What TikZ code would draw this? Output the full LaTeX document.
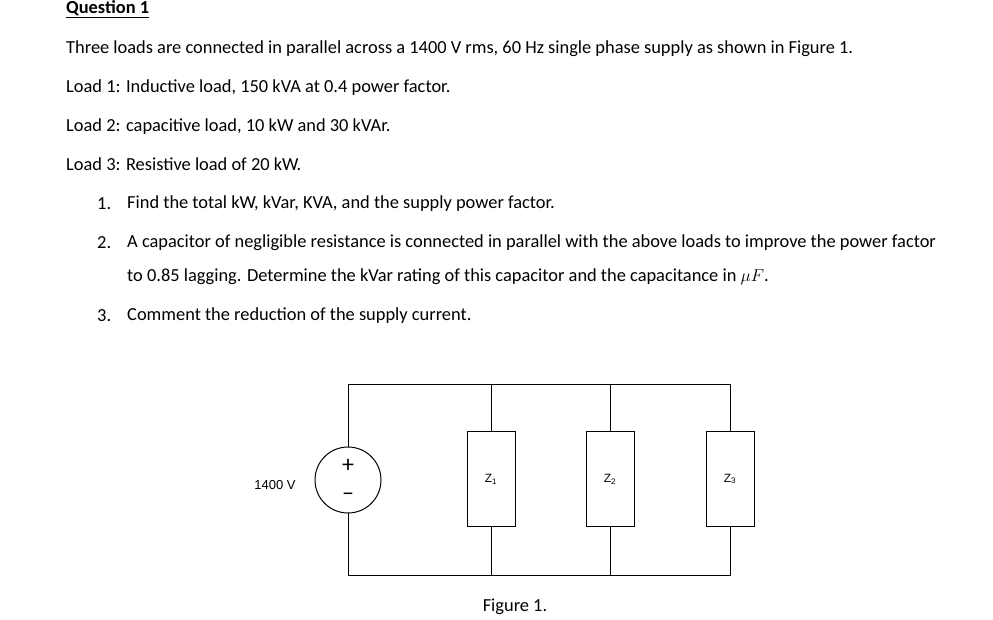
\documentclass[tikz,border=0pt]{standalone}
\usepackage{fontspec}
\setmainfont{Carlito}
\newfontfamily\arialf{Liberation Sans}
\begin{document}
\begin{tikzpicture}[x=1pt,y=-1pt,
  txt/.style={anchor=west,inner sep=0pt,font=\fontsize{18.4}{20}\selectfont},
  wire/.style={line width=1pt},
  load/.style={draw,line width=1pt,minimum width=48pt,minimum height=95pt,inner sep=0pt,fill=white,font=\arialf\fontsize{12}{14}\selectfont},
  lbl/.style={font=\arialf\fontsize{13}{15}\selectfont,inner sep=0pt}]
\useasboundingbox[fill=white] (0,0) rectangle (993,620);
\node[txt,font=\bfseries\fontsize{18.4}{20}\selectfont] (q) at (66,9) {\underline{Question 1}};
\node[txt] (t1) at (66,49) {Three loads are connected in parallel across a 1400 V rms, 60 Hz single phase supply as shown in Figure 1.};
\node[txt] (t2) at (66,88) {Load 1: Inductive load, 150 kVA at 0.4 power factor.};
\node[txt] (t3) at (66,127) {Load 2: capacitive load, 10 kW and 30 kVAr.};
\node[txt] (t4) at (66,164) {Load 3: Resistive load of 20 kW.};
\node[txt] (n1) at (97,204) {1.};
\node[txt] (i1) at (127,204) {Find the total kW, kVar, KVA, and the supply power factor.};
\node[txt] (n2) at (97,243) {2.};
\node[txt] (i2) at (127,243) {A capacitor of negligible resistance is connected in parallel with the above loads to improve the power factor};
\node[txt] (i2b) at (127,277) {to 0.85 lagging. Determine the kVar rating of this capacitor and the capacitance in $\mu F$.};
\node[txt] (n3) at (97,316) {3.};
\node[txt] (i3) at (127,316) {Comment the reduction of the supply current.};
% circuit
\coordinate (tl) at (348,384); \coordinate (tr) at (730,384);
\coordinate (bl) at (348,575); \coordinate (br) at (730,575);
\coordinate (t1c) at (491,384); \coordinate (b1c) at (491,575);
\coordinate (t2c) at (610,384); \coordinate (b2c) at (610,575);
\draw[wire] (bl) -- (tl) -- (tr) -- (br) -- (bl);
\draw[wire] (t1c) -- (b1c); \draw[wire] (t2c) -- (b2c);
\node[draw,circle,line width=1pt,minimum size=66pt,inner sep=0pt,fill=white] (src) at (348,480) {};
\node[font=\fontsize{24}{24}\selectfont,inner sep=0pt] (plus) at (348,466) {+};
\node[font=\fontsize{24}{24}\selectfont,inner sep=0pt] (minus) at (348,497) {--};
\node[load] (z1) at (491,479) {Z\textsubscript{1}};
\node[load] (z2) at (610,479) {Z\textsubscript{2}};
\node[load] (z3) at (730,479) {Z\textsubscript{3}};
\node[lbl] (v) at (275,485) {1400 V};
\node[txt,anchor=center] (fig) at (515,607) {Figure 1.};
\end{tikzpicture}
\end{document}
